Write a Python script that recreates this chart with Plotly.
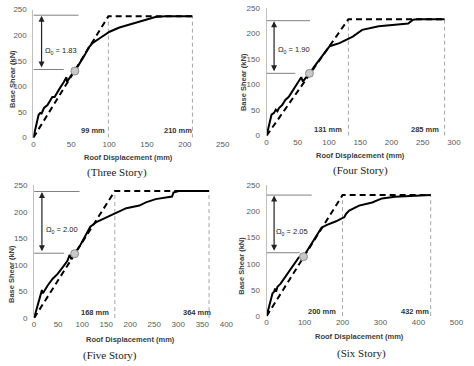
import plotly.graph_objects as go

# ---------------- data ----------------
panel_titles = ["(Three Story)", "(Four Story)", "(Five Story)", "(Six Story)"]

d3 = [0, 2.6, 5.6, 6.9, 9, 10.8, 12, 14, 18.6, 22.9, 25, 28, 31.5, 35.8, 40, 43.6, 44.5, 46.6, 51, 54.8,
      61.7, 68, 72.5, 78, 87.6, 100.6, 113.6, 130.8, 148, 161, 174, 210]
v3 = [0, 16, 35, 44.5, 48, 47, 51, 58, 63.6, 76, 79.5, 79.5, 89, 98.6, 108, 117.7, 109, 114.5, 124, 130,
      146, 162, 175, 184.5, 194, 206.7, 215, 223, 230.5, 235.6, 237, 237]

d4 = [0, 4.2, 7.9, 12, 14.7, 17.3, 19.9, 25, 30, 35.6, 40.8, 46, 51.3, 55.5, 58, 61.8, 68.6, 77.5, 85.3,
      95.8, 101, 116.7, 138, 153, 179.6, 205.8, 226.7, 234.6, 242, 285]
v4 = [0, 22, 41, 44.5, 51, 47.7, 54, 60, 70, 76, 86, 95, 105, 114.5, 106, 112.6, 122, 137, 149.6,
      168.6, 175, 181, 194, 207, 214, 217, 219.5, 227, 228, 228]

d5 = [0, 4.8, 9.5, 13.6, 16.3, 18.4, 21.8, 28.6, 38.8, 49, 59, 69.4, 74, 77.6, 83, 84.4, 96.6, 107, 117,
      130.6, 151, 171.4, 191.8, 219, 232.6, 253, 287, 290, 300.7, 364]
v5 = [0, 16, 34, 46.5, 52.6, 46.5, 52.6, 61.7, 74, 83, 95, 107.6, 119, 110.6, 118.6, 121, 138, 156.5, 171.8,
      181, 190, 199, 206.6, 211.5, 217.6, 223.7, 228.6, 236, 239, 239]

d6 = [0, 4.3, 9.5, 15.5, 19.8, 22.4, 25, 28.4, 37, 45.6, 54.2, 62.8, 71.4, 84.3, 90.4, 97.2, 105.9, 123,
      136, 144.6, 157.5, 183, 204.8, 209, 217.6, 243.5, 278, 303.8, 338, 432]
v6 = [0, 12.4, 28, 43.4, 46.5, 52.7, 46.5, 55.8, 62, 71.3, 80.6, 90, 99, 111.7, 114.8, 113.5, 124, 142.7,
      158, 168.7, 173.7, 181, 189, 195, 201.6, 211, 217, 224.6, 228, 231]

disp_curves = [d3, d4, d5, d6]
shear_curves = [v3, v4, v5, v6]

yield_disp = [99, 131, 168, 200]
ult_disp = [210, 285, 364, 432]
v_max = [237, 228, 239, 231]
design_disp = [54.8, 68.6, 84.4, 97.2]
design_shear = [130, 122, 121, 113.5]
omega = ["1.83", "1.90", "2.00", "2.05"]
omega_top = [239, 225, 238, 231]
omega_bot = [133, 122, 122, 121]

x_max = [250, 300, 400, 500]
x_dtick = [50, 50, 50, 100]

# ---------------- layout geometry (pixels) ----------------
W, H = 474, 366
# (x0px, x1px, y_bottom_px, y_top_px)
boxes = [(32, 225, 137, 5.7), (269.7, 460.7, 135, 4), (32.7, 228.7, 322, 185.7), (269.7, 463.3, 320, 185.7)]
# reference-line lengths / arrow x / omega text pos / yield-label pos (axis units)
topline_end = [59.6, 69.6, 94.6, 118.8]
botline_end = [40, 46, 62.6, 87]
arrow_x = [10.8, 12, 16.3, 19.8]
omega_pos = [(37, 170), (44, 167), (59, 166), (67, 161)]
ylab_pos = [(79, 13), (98, 13), (127, 10), (145, 8)]
ulab_pos = [(191, 13), (253, 13), (338, 10), (390, 8)]
xtitle_px = [(129, 157), (365.7, 155), (130.7, 344), (364.7, 341)]
ytitle_px = [(10, 77), (245.7, 80), (9, 277), (244, 268)]
sub_px = [(117, 173), (365.7, 171), (110, 360), (366, 358)]

FONT = "Liberation Sans, Arial, sans-serif"
fig = go.Figure()
annotations = []
shapes = []

for i in range(4):
    n = "" if i == 0 else str(i + 1)
    xa, ya = "x" + n, "y" + n
    x0, x1, yb, yt = boxes[i]
    fig.layout["xaxis" + n] = dict(
        domain=[x0 / W, x1 / W], range=[0, x_max[i]], dtick=x_dtick[i], tick0=0,
        anchor=ya, showgrid=False, zeroline=False, showline=False, ticks="",
        tickfont=dict(family=FONT, size=8, color="#595959"), fixedrange=True)
    fig.layout["yaxis" + n] = dict(
        domain=[1 - yb / H, 1 - yt / H], range=[0, 250], dtick=50, tick0=0,
        anchor=xa, showgrid=False, zeroline=False, showline=True, linecolor="#bfbfbf", linewidth=1,
        ticks="", tickfont=dict(family=FONT, size=8, color="#595959"), ticklabelstandoff=4,
        fixedrange=True)

    # idealized bilinear (dashed)
    fig.add_trace(go.Scatter(x=[0, yield_disp[i], ult_disp[i]], y=[0, v_max[i], v_max[i]],
                             mode="lines", line=dict(color="black", width=2, dash="6px,4px"),
                             xaxis=xa, yaxis=ya, showlegend=False, hoverinfo="skip"))
    # pushover curve
    fig.add_trace(go.Scatter(x=disp_curves[i], y=shear_curves[i], mode="lines",
                             line=dict(color="black", width=2), xaxis=xa, yaxis=ya,
                             showlegend=False, hoverinfo="skip"))
    # design point
    fig.add_trace(go.Scatter(x=[design_disp[i]], y=[design_shear[i]], mode="markers",
                             marker=dict(size=8, color="#c8c8c8", line=dict(color="#8c8c8c", width=1)),
                             xaxis=xa, yaxis=ya, showlegend=False, hoverinfo="skip"))

    # vertical dashed gray lines
    for xv in (yield_disp[i], ult_disp[i]):
        shapes.append(dict(type="line", xref=xa, yref=ya, x0=xv, x1=xv, y0=0, y1=v_max[i],
                           line=dict(color="#a6a6a6", width=1, dash="4px,3px"), layer="below"))
    # horizontal reference lines
    shapes.append(dict(type="line", xref=xa, yref=ya, x0=0, x1=topline_end[i], y0=omega_top[i],
                       y1=omega_top[i], line=dict(color="#808080", width=1)))
    shapes.append(dict(type="line", xref=xa, yref=ya, x0=0, x1=botline_end[i], y0=omega_bot[i],
                       y1=omega_bot[i], line=dict(color="#808080", width=1)))
    # double arrow
    annotations.append(dict(xref=xa, yref=ya, axref=xa, ayref=ya, x=arrow_x[i], y=omega_top[i] - 1,
                            ax=arrow_x[i], ay=omega_bot[i] + 1, text="", showarrow=True,
                            arrowhead=2, arrowside="end+start", arrowsize=1, arrowwidth=1.2,
                            arrowcolor="#222222"))
    annotations.append(dict(xref=xa, yref=ya, x=omega_pos[i][0], y=omega_pos[i][1],
                            text="Ω<sub>0</sub> = " + omega[i], showarrow=False,
                            font=dict(family=FONT, size=7.5, color="#222222")))
    annotations.append(dict(xref=xa, yref=ya, x=ylab_pos[i][0], y=ylab_pos[i][1],
                            text="<b>%d mm</b>" % yield_disp[i], showarrow=False,
                            font=dict(family=FONT, size=7.5, color="#333333")))
    annotations.append(dict(xref=xa, yref=ya, x=ulab_pos[i][0], y=ulab_pos[i][1],
                            text="<b>%d mm</b>" % ult_disp[i], showarrow=False,
                            font=dict(family=FONT, size=7.5, color="#333333")))
    # axis titles
    annotations.append(dict(xref="paper", yref="paper", x=xtitle_px[i][0] / W, y=1 - xtitle_px[i][1] / H,
                            text="<b>Roof Displacement (mm)</b>", showarrow=False,
                            xanchor="center", yanchor="middle",
                            font=dict(family=FONT, size=7.5, color="#404040")))
    annotations.append(dict(xref="paper", yref="paper", x=ytitle_px[i][0] / W, y=1 - ytitle_px[i][1] / H,
                            text="<b>Base Shear (kN)</b>", showarrow=False, textangle=-90,
                            xanchor="center", yanchor="middle",
                            font=dict(family=FONT, size=7.5, color="#404040")))
    annotations.append(dict(xref="paper", yref="paper", x=sub_px[i][0] / W, y=1 - sub_px[i][1] / H,
                            text=panel_titles[i], showarrow=False, xanchor="center", yanchor="middle",
                            font=dict(family="Liberation Serif, Times New Roman, serif", size=11,
                                      color="#222222")))

fig.update_layout(width=W, height=H, margin=dict(l=0, r=0, t=0, b=0),
                  paper_bgcolor="white", plot_bgcolor="white",
                  annotations=annotations, shapes=shapes, showlegend=False)

fig.write_html("out.html", config={"displayModeBar": False, "staticPlot": True},
               post_script="document.body.style.margin='0px';document.body.style.overflow='hidden';")
